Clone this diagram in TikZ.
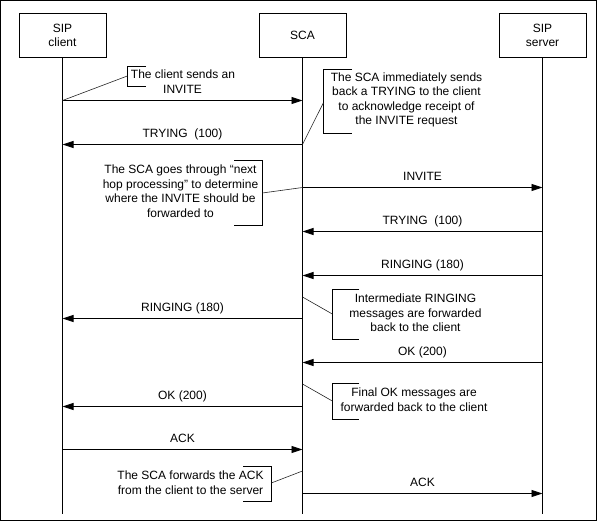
\documentclass[tikz,border=0pt]{standalone}
\usepackage{fontspec}
\setmainfont{Liberation Sans}
\usetikzlibrary{arrows.meta}
\begin{document}
\begin{tikzpicture}[x=1pt,y=-1pt,
  every node/.style={font=\fontsize{12}{14.5}\selectfont, inner sep=0pt, outer sep=0pt},
  head/.style={draw, line width=0.9pt, minimum width=87pt, minimum height=44pt, align=center},
  life/.style={line width=0.9pt},
  msg/.style={line width=0.9pt, -{Triangle[length=11pt,width=7pt]}},
  lbl/.style={midway, anchor=base, yshift=7.5pt},
  note/.style={align=center, anchor=north},
  bracket/.style={line width=0.9pt},
  link/.style={line width=0.6pt, draw=black!85}]
\useasboundingbox (0,0) rectangle (598,522);
\draw[line width=1pt] (0.5,0.5) rectangle (596.5,520.5);

% lifeline heads
\node[head] (client) at (62.5,35.5) {SIP\\client};
\node[head] (sca) at (302.5,35.5) {SCA};
\node[head] (server) at (542.5,35.5) {SIP\\server};

% lifelines
\coordinate (bottom) at (0,514);
\draw[life] (client.south) -- (client |- bottom);
\draw[life] (sca.south) -- (sca |- bottom);
\draw[life] (server.south) -- (server |- bottom);

% message rows
\coordinate (r1) at (0,100.5);
\coordinate (r2) at (0,144.5);
\coordinate (r3) at (0,187.5);
\coordinate (r4) at (0,231.5);
\coordinate (r5) at (0,275.5);
\coordinate (r6) at (0,318.5);
\coordinate (r7) at (0,362.5);
\coordinate (r8) at (0,406.5);
\coordinate (r9) at (0,449.5);
\coordinate (r10) at (0,493.5);

\draw[msg] (client |- r1) -- node[lbl]{INVITE} (sca |- r1);
\draw[msg] (sca |- r2) -- node[lbl]{TRYING\ \ (100)} (client |- r2);
\draw[msg] (sca |- r3) -- node[lbl]{INVITE} (server |- r3);
\draw[msg] (server |- r4) -- node[lbl]{TRYING\ \ (100)} (sca |- r4);
\draw[msg] (server |- r5) -- node[lbl]{RINGING (180)} (sca |- r5);
\draw[msg] (sca |- r6) -- node[lbl]{RINGING (180)} (client |- r6);
\draw[msg] (server |- r7) -- node[lbl]{OK (200)} (sca |- r7);
\draw[msg] (sca |- r8) -- node[lbl]{OK (200)} (client |- r8);
\draw[msg] (client |- r9) -- node[lbl]{ACK} (sca |- r9);
\draw[msg] (sca |- r10) -- node[lbl]{ACK} (server |- r10);

% note 1
\node[note] (n1) at (183,70.3) {The client sends an};
\draw[bracket] (146,66) -- (127.3,66) -- (127.3,86) -- (146,86);
\coordinate (a1) at (127.3,76);
\draw[link] (client |- r1) -- (a1);

% note 2
\node[note] (n2) at (406.5,72.7) {The SCA immediately sends\\back a TRYING to the client\\to acknowledge receipt of\\the INVITE request};
\draw[bracket] (352,69) -- (323.3,69) -- (323.3,133.3) -- (352,133.3);
\coordinate (a2) at (323.3,103);
\draw[link] (sca |- r2) -- (a2);

% note 3
\node[note] (n3) at (180.5,165) {The SCA goes through “next\\hop processing” to determine\\where the INVITE should be\\forwarded to};
\draw[bracket] (234.3,160) -- (262.3,160) -- (262.3,225.3) -- (234.3,225.3);
\coordinate (a3) at (262.3,193);
\draw[link] (a3) -- (sca |- r3);

% note 4
\node[note] (n4) at (415.5,294) {Intermediate RINGING\\messages are forwarded\\back to the client};
\draw[bracket] (359.3,289.3) -- (332.3,289.3) -- (332.3,339) -- (359.3,339);
\coordinate (a4) at (332.3,314);
\coordinate (s4) at (0,297);
\draw[link] (sca |- s4) -- (a4);

% note 5
\node[note] (n5) at (414,388) {Final OK messages are\\forwarded back to the client};
\draw[bracket] (359.3,383.3) -- (332.3,383.3) -- (332.3,419) -- (359.3,419);
\coordinate (a5) at (332.3,401);
\coordinate (s5) at (0,384);
\draw[link] (sca |- s5) -- (a5);

% note 6
\node[note] (n6) at (190.5,471) {The SCA forwards the ACK\\from the client to the server};
\draw[bracket] (243.3,466) -- (271.3,466) -- (271.3,501.7) -- (243.3,501.7);
\coordinate (a6) at (271.3,483);
\coordinate (s6) at (0,471);
\draw[link] (a6) -- (sca |- s6);
\end{tikzpicture}
\end{document}
